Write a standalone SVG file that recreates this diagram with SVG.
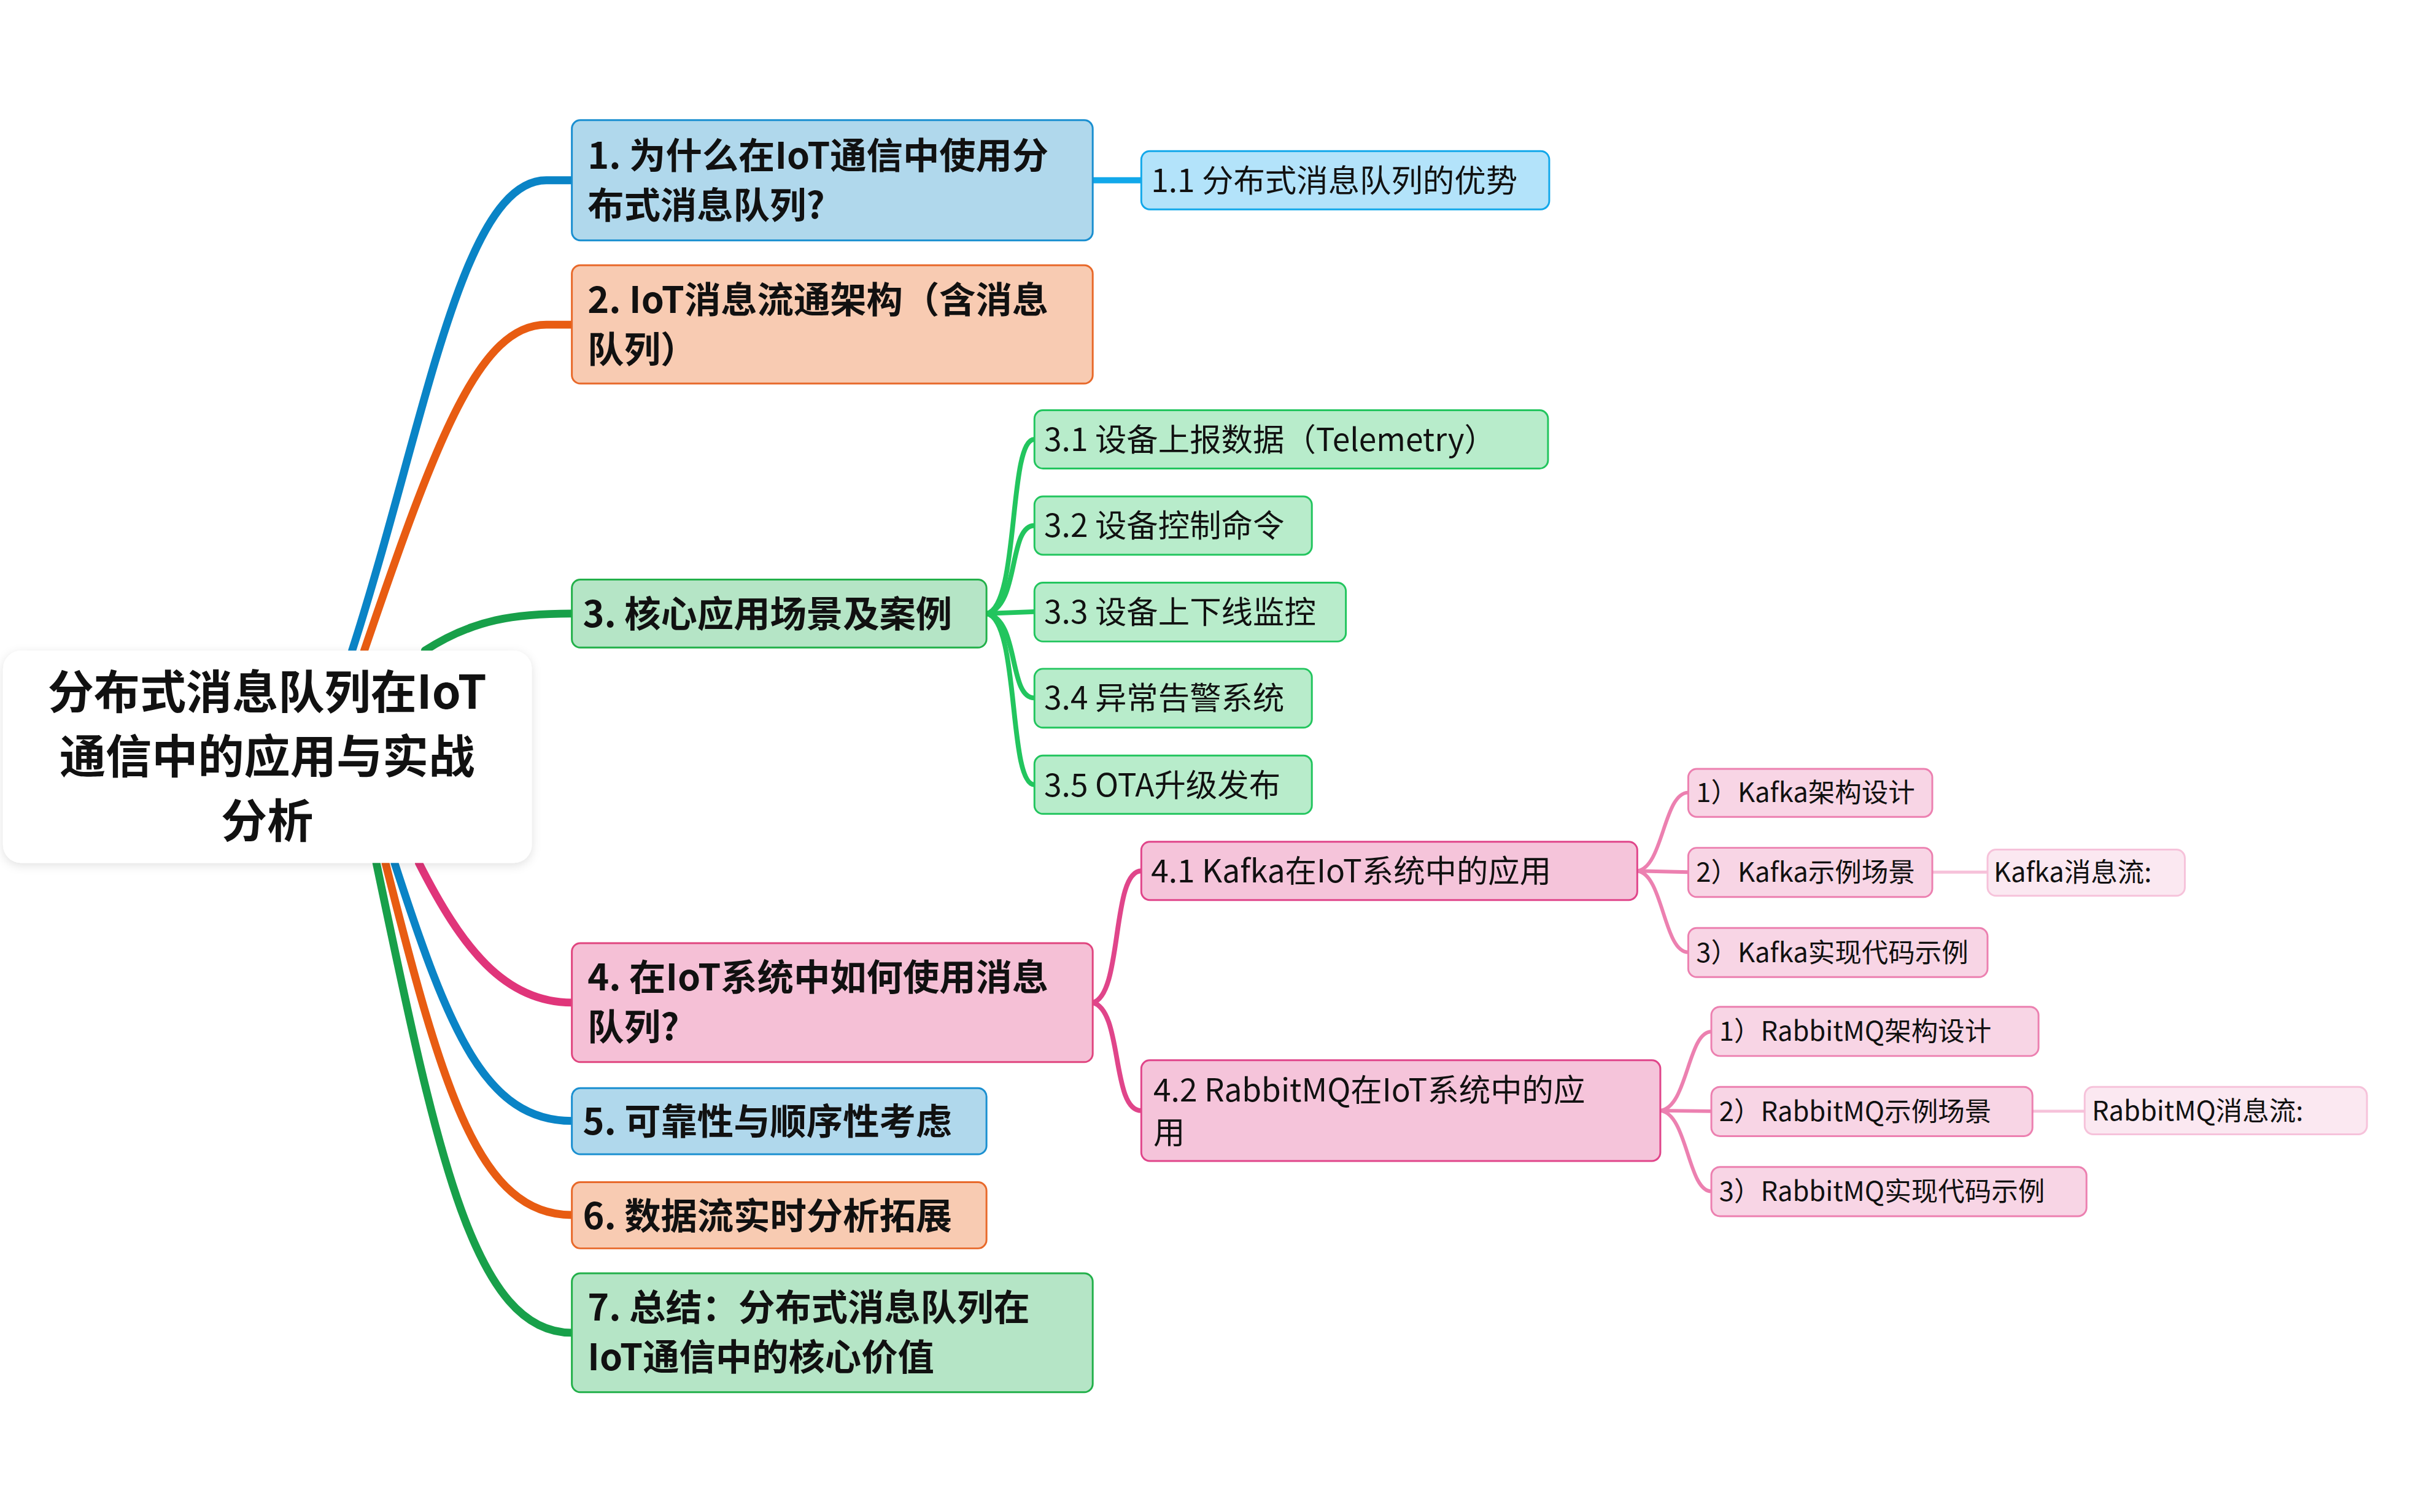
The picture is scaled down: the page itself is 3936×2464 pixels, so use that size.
<svg xmlns="http://www.w3.org/2000/svg" width="3936" height="2464" viewBox="0 0 3936 2464">
<defs>
<style>
text{font-family:"Noto Sans CJK SC","Noto Sans",sans-serif;fill:#111}
.b{font-weight:bold;font-size:60px}
.m{font-size:52px}
.s{font-size:44px}
.e{fill:none;stroke-linecap:round}
</style>
<filter id="sh" x="-10%" y="-10%" width="120%" height="130%"><feDropShadow dx="0" dy="4" stdDeviation="8" flood-color="#000" flood-opacity="0.12"/></filter>
</defs>
<rect width="3936" height="2464" fill="#fff"/>
<g transform="scale(0.989)">
<g id="connectors">
<path class="e" stroke="#0a84c6" stroke-width="13" d="M580 1072 C700 700 760 297 900 297 L942 297"/>
<path class="e" stroke="#e85c12" stroke-width="13" d="M600 1072 C720 720 790 535 900 535 L942 535"/>
<path class="e" stroke="#18a04a" stroke-width="13" d="M700 1072 C780 1020 850 1011 942 1011"/>
<path class="e" stroke="#e0357a" stroke-width="13" d="M690 1422 C760 1560 830 1652 942 1652"/>
<path class="e" stroke="#0a84c6" stroke-width="13" d="M650 1422 C740 1700 800 1847 942 1847"/>
<path class="e" stroke="#e85c12" stroke-width="13" d="M635 1422 C730 1800 790 2002 942 2002"/>
<path class="e" stroke="#18a04a" stroke-width="13" d="M620 1422 C720 1900 780 2196 942 2196"/>
<path class="e" stroke="#12a8ea" stroke-width="10" d="M1800 297 L1880 297"/>
<g stroke="#22c55e" stroke-width="8" class="e">
<path d="M1625 1011 C1680 1000 1660 724 1704 724"/>
<path d="M1625 1011 C1680 1000 1660 866 1704 866"/>
<path d="M1625 1011 L1704 1008"/>
<path d="M1625 1011 C1680 1020 1660 1150 1704 1150"/>
<path d="M1625 1011 C1680 1020 1660 1293 1704 1293"/>
</g>
<g stroke="#e0458a" stroke-width="8" class="e">
<path d="M1800 1652 C1850 1640 1830 1435 1880 1435"/>
<path d="M1800 1652 C1850 1664 1830 1830 1880 1830"/>
</g>
<g stroke="#ec80b0" stroke-width="6" class="e">
<path d="M2697 1435 C2740 1430 2740 1306 2781 1306"/>
<path d="M2697 1435 L2781 1437"/>
<path d="M2697 1435 C2740 1440 2740 1569 2781 1569"/>
<path d="M2735 1830 C2780 1825 2780 1700 2819 1700"/>
<path d="M2735 1830 L2819 1831"/>
<path d="M2735 1830 C2780 1835 2780 1963 2819 1963"/>
</g>
<g stroke="#f6c2da" stroke-width="5" class="e">
<path d="M3183 1437 L3274 1437"/>
<path d="M3348 1831 L3434 1831"/>
</g>
</g>
<g id="root"><rect x="5" y="1072" width="871" height="350" rx="30" fill="#fff" filter="url(#sh)"/>
<text x="440" y="1168" text-anchor="middle" font-size="76" font-weight="bold">分布式消息队列在IoT</text>
<text x="440" y="1274" text-anchor="middle" font-size="76" font-weight="bold">通信中的应用与实战</text>
<text x="440" y="1380" text-anchor="middle" font-size="76" font-weight="bold">分析</text></g>
<g id="n1"><rect x="942" y="198" width="858" height="198" rx="14" fill="#b0d8ec" stroke="#1a8fd0" stroke-width="3"/>
<text class="b" x="968" y="278">1. 为什么在IoT通信中使用分</text><text class="b" x="968" y="360">布式消息队列?</text></g>
<g id="n11"><rect x="1880" y="249" width="672" height="96" rx="14" fill="#b3e3fa" stroke="#12a8ea" stroke-width="3"/>
<text class="m" x="1896" y="316">1.1 分布式消息队列的优势</text></g>
<g id="n2"><rect x="942" y="437" width="858" height="195" rx="14" fill="#f8cbb2" stroke="#e8692a" stroke-width="3"/>
<text class="b" x="968" y="516">2. IoT消息流通架构（含消息</text><text class="b" x="968" y="598">队列）</text></g>
<g id="n3"><rect x="942" y="955" width="683" height="112" rx="14" fill="#b5e5c6" stroke="#22b04a" stroke-width="3"/>
<text class="b" x="960" y="1033">3. 核心应用场景及案例</text></g>
<g id="n31"><rect x="1704" y="676" width="846" height="96" rx="14" fill="#b8eccb" stroke="#22c55e" stroke-width="3"/><text class="m" x="1720" y="743">3.1 设备上报数据（Telemetry）</text></g>
<g id="n32"><rect x="1704" y="818" width="457" height="96" rx="14" fill="#b8eccb" stroke="#22c55e" stroke-width="3"/><text class="m" x="1720" y="885">3.2 设备控制命令</text></g>
<g id="n33"><rect x="1704" y="960" width="513" height="97" rx="14" fill="#b8eccb" stroke="#22c55e" stroke-width="3"/><text class="m" x="1720" y="1027">3.3 设备上下线监控</text></g>
<g id="n34"><rect x="1704" y="1102" width="457" height="97" rx="14" fill="#b8eccb" stroke="#22c55e" stroke-width="3"/><text class="m" x="1720" y="1169">3.4 异常告警系统</text></g>
<g id="n35"><rect x="1704" y="1245" width="457" height="96" rx="14" fill="#b8eccb" stroke="#22c55e" stroke-width="3"/><text class="m" x="1720" y="1312">3.5 OTA升级发布</text></g>
<g id="n4"><rect x="942" y="1554" width="858" height="196" rx="14" fill="#f5c0d6" stroke="#e0457f" stroke-width="3"/>
<text class="b" x="968" y="1632">4. 在IoT系统中如何使用消息</text><text class="b" x="968" y="1714">队列?</text></g>
<g id="n41"><rect x="1880" y="1387" width="817" height="96" rx="14" fill="#f5c4da" stroke="#e0458a" stroke-width="3"/><text class="m" x="1896" y="1454">4.1 Kafka在IoT系统中的应用</text></g>
<g id="n42"><rect x="1880" y="1747" width="855" height="166" rx="14" fill="#f5c4da" stroke="#e0458a" stroke-width="3"/><text class="m" x="1900" y="1815">4.2 RabbitMQ在IoT系统中的应</text><text class="m" x="1900" y="1885">用</text></g>
<g id="k1"><rect x="2781" y="1267" width="402" height="79" rx="14" fill="#f8d5e5" stroke="#ec80b0" stroke-width="3"/><text class="s" x="2794" y="1322">1）Kafka架构设计</text></g>
<g id="k2"><rect x="2781" y="1397" width="402" height="81" rx="14" fill="#f8d5e5" stroke="#ec80b0" stroke-width="3"/><text class="s" x="2794" y="1453">2）Kafka示例场景</text></g>
<g id="k3"><rect x="2781" y="1529" width="493" height="81" rx="14" fill="#f8d5e5" stroke="#ec80b0" stroke-width="3"/><text class="s" x="2794" y="1585">3）Kafka实现代码示例</text></g>
<g id="k21"><rect x="3274" y="1400" width="325" height="76" rx="14" fill="#fbe8f1" stroke="#f6c2da" stroke-width="3"/><text class="s" x="3284" y="1453">Kafka消息流:</text></g>
<g id="r1"><rect x="2819" y="1659" width="539" height="81" rx="14" fill="#f8d5e5" stroke="#ec80b0" stroke-width="3"/><text class="s" x="2832" y="1715">1）RabbitMQ架构设计</text></g>
<g id="r2"><rect x="2819" y="1791" width="529" height="81" rx="14" fill="#f8d5e5" stroke="#ec80b0" stroke-width="3"/><text class="s" x="2832" y="1847">2）RabbitMQ示例场景</text></g>
<g id="r3"><rect x="2819" y="1923" width="618" height="81" rx="14" fill="#f8d5e5" stroke="#ec80b0" stroke-width="3"/><text class="s" x="2832" y="1979">3）RabbitMQ实现代码示例</text></g>
<g id="r21"><rect x="3434" y="1791" width="465" height="78" rx="14" fill="#fbe8f1" stroke="#f6c2da" stroke-width="3"/><text class="s" x="3446" y="1846">RabbitMQ消息流:</text></g>
<g id="n5"><rect x="942" y="1793" width="683" height="109" rx="14" fill="#b0d8ec" stroke="#1a8fd0" stroke-width="3"/><text class="b" x="960" y="1870">5. 可靠性与顺序性考虑</text></g>
<g id="n6"><rect x="942" y="1948" width="683" height="109" rx="14" fill="#f8cbb2" stroke="#e8692a" stroke-width="3"/><text class="b" x="960" y="2025">6. 数据流实时分析拓展</text></g>
<g id="n7"><rect x="942" y="2098" width="858" height="196" rx="14" fill="#b5e5c6" stroke="#22b04a" stroke-width="3"/>
<text class="b" x="968" y="2176">7. 总结：分布式消息队列在</text><text class="b" x="968" y="2258">IoT通信中的核心价值</text></g>
</g>
</svg>
